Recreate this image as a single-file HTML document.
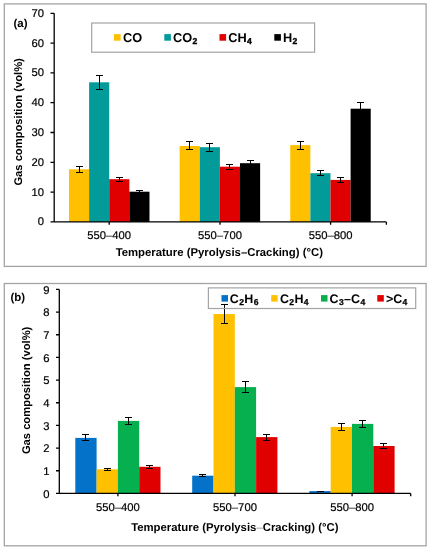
<!DOCTYPE html>
<html><head><meta charset="utf-8"><style>
html,body{margin:0;padding:0;background:#fff;overflow:hidden;}
svg{display:block;}
text{text-rendering:geometricPrecision;}
</style></head><body>
<svg width="431" height="550" viewBox="0 0 431 550">
<rect x="0" y="0" width="431" height="550" fill="#fff"/>
<rect x="4.3" y="3.9" width="421.8" height="262.5" fill="none" stroke="#a4a4a4" stroke-width="1.3"/>
<rect x="69.00" y="169.30" width="20.12" height="52.60" fill="#FFC000"/>
<rect x="89.12" y="82.30" width="20.12" height="139.60" fill="#039A9A"/>
<rect x="109.24" y="179.20" width="20.12" height="42.70" fill="#E00000"/>
<rect x="129.36" y="191.70" width="20.12" height="30.20" fill="#000000"/>
<rect x="179.65" y="146.00" width="20.12" height="75.90" fill="#FFC000"/>
<rect x="199.77" y="147.20" width="20.12" height="74.70" fill="#039A9A"/>
<rect x="219.89" y="166.70" width="20.12" height="55.20" fill="#E00000"/>
<rect x="240.01" y="163.20" width="20.12" height="58.70" fill="#000000"/>
<rect x="290.25" y="145.10" width="20.12" height="76.80" fill="#FFC000"/>
<rect x="310.37" y="173.20" width="20.12" height="48.70" fill="#039A9A"/>
<rect x="330.49" y="179.90" width="20.12" height="42.00" fill="#E00000"/>
<rect x="350.61" y="108.70" width="20.12" height="113.20" fill="#000000"/>
<path d="M79.50 166.50V172.50M76.00 166.50H83.00M76.00 172.50H83.00" stroke="#000" stroke-width="1" fill="none"/>
<path d="M99.50 75.50V89.50M96.00 75.50H103.00M96.00 89.50H103.00" stroke="#000" stroke-width="1" fill="none"/>
<path d="M119.50 177.50V181.50M116.00 177.50H123.00M116.00 181.50H123.00" stroke="#000" stroke-width="1" fill="none"/>
<path d="M139.50 190.50V192.50M136.00 190.50H143.00M136.00 192.50H143.00" stroke="#000" stroke-width="1" fill="none"/>
<path d="M189.50 141.50V149.50M186.00 141.50H193.00M186.00 149.50H193.00" stroke="#000" stroke-width="1" fill="none"/>
<path d="M209.50 143.50V151.50M206.00 143.50H213.00M206.00 151.50H213.00" stroke="#000" stroke-width="1" fill="none"/>
<path d="M229.50 164.50V169.50M226.00 164.50H233.00M226.00 169.50H233.00" stroke="#000" stroke-width="1" fill="none"/>
<path d="M250.50 160.50V166.50M247.00 160.50H254.00M247.00 166.50H254.00" stroke="#000" stroke-width="1" fill="none"/>
<path d="M300.50 141.50V149.50M297.00 141.50H304.00M297.00 149.50H304.00" stroke="#000" stroke-width="1" fill="none"/>
<path d="M320.50 170.50V175.50M317.00 170.50H324.00M317.00 175.50H324.00" stroke="#000" stroke-width="1" fill="none"/>
<path d="M340.50 177.50V182.50M337.00 177.50H344.00M337.00 182.50H344.00" stroke="#000" stroke-width="1" fill="none"/>
<path d="M360.50 102.50V114.50M357.00 102.50H364.00M357.00 114.50H364.00" stroke="#000" stroke-width="1" fill="none"/>
<path d="M54.2 13.3V221.9H386.4M50.5 221.90H54.2M50.5 192.10H54.2M50.5 162.30H54.2M50.5 132.50H54.2M50.5 102.70H54.2M50.5 72.90H54.2M50.5 43.10H54.2M50.5 13.30H54.2M109.20 221.9V224.70000000000002M220.00 221.9V224.70000000000002M330.60 221.9V224.70000000000002M386.40 221.9V224.70000000000002" stroke="#000" stroke-width="1.3" fill="none"/>
<text x="44" y="225.30" text-anchor="end" font-family='"Liberation Sans", Arial, sans-serif' font-size="11.25" fill="#000" stroke="#000" stroke-width="0.2">0</text>
<text x="44" y="195.50" text-anchor="end" font-family='"Liberation Sans", Arial, sans-serif' font-size="11.25" fill="#000" stroke="#000" stroke-width="0.2">10</text>
<text x="44" y="165.70" text-anchor="end" font-family='"Liberation Sans", Arial, sans-serif' font-size="11.25" fill="#000" stroke="#000" stroke-width="0.2">20</text>
<text x="44" y="135.90" text-anchor="end" font-family='"Liberation Sans", Arial, sans-serif' font-size="11.25" fill="#000" stroke="#000" stroke-width="0.2">30</text>
<text x="44" y="106.10" text-anchor="end" font-family='"Liberation Sans", Arial, sans-serif' font-size="11.25" fill="#000" stroke="#000" stroke-width="0.2">40</text>
<text x="44" y="76.30" text-anchor="end" font-family='"Liberation Sans", Arial, sans-serif' font-size="11.25" fill="#000" stroke="#000" stroke-width="0.2">50</text>
<text x="44" y="46.50" text-anchor="end" font-family='"Liberation Sans", Arial, sans-serif' font-size="11.25" fill="#000" stroke="#000" stroke-width="0.2">60</text>
<text x="44" y="16.70" text-anchor="end" font-family='"Liberation Sans", Arial, sans-serif' font-size="11.25" fill="#000" stroke="#000" stroke-width="0.2">70</text>
<text x="109.20" y="239.3" text-anchor="middle" font-family='"Liberation Sans", Arial, sans-serif' font-size="11.25" fill="#000" stroke="#000" stroke-width="0.2">550–400</text>
<text x="220.00" y="239.3" text-anchor="middle" font-family='"Liberation Sans", Arial, sans-serif' font-size="11.25" fill="#000" stroke="#000" stroke-width="0.2">550–700</text>
<text x="330.60" y="239.3" text-anchor="middle" font-family='"Liberation Sans", Arial, sans-serif' font-size="11.25" fill="#000" stroke="#000" stroke-width="0.2">550–800</text>
<text x="219.3" y="256.3" text-anchor="middle" font-family='"Liberation Sans", Arial, sans-serif' font-size="11.35" font-weight="bold" fill="#000">Temperature (Pyrolysis–Cracking) (°C)</text>
<text transform="translate(22.2 121.9) rotate(-90)" text-anchor="middle" font-family='"Liberation Sans", Arial, sans-serif' font-size="11.2" font-weight="bold" fill="#000">Gas composition (vol%)</text>
<text x="13.5" y="26.5" font-family='"Liberation Sans", Arial, sans-serif' font-size="11.5" font-weight="bold" fill="#000">(a)</text>
<rect x="91.7" y="23.0" width="222.90000000000003" height="29.200000000000003" fill="none" stroke="#a4a4a4" stroke-width="1.2"/>
<rect x="114" y="34.1" width="6.6" height="6.6" fill="#FFC000"/>
<text x="122.9" y="41.7" font-family='"Liberation Sans", Arial, sans-serif' font-size="12.8" font-weight="bold" fill="#000">CO</text>
<rect x="164.3" y="34.1" width="6.6" height="6.6" fill="#039A9A"/>
<text x="173.0" y="41.7" font-family='"Liberation Sans", Arial, sans-serif' font-size="12.8" font-weight="bold" fill="#000">CO<tspan font-size="8.6" dx="0.3" dy="2.6" stroke="#000" stroke-width="0.35">2</tspan></text>
<rect x="219.5" y="34.1" width="6.6" height="6.6" fill="#E00000"/>
<text x="228.2" y="41.7" font-family='"Liberation Sans", Arial, sans-serif' font-size="12.8" font-weight="bold" fill="#000">CH<tspan font-size="8.6" dx="0.3" dy="2.6" stroke="#000" stroke-width="0.35">4</tspan></text>
<rect x="274.3" y="34.1" width="6.6" height="6.6" fill="#000000"/>
<text x="282.9" y="41.7" font-family='"Liberation Sans", Arial, sans-serif' font-size="12.8" font-weight="bold" fill="#000">H<tspan font-size="8.6" dx="0.3" dy="2.6" stroke="#000" stroke-width="0.35">2</tspan></text>
<rect x="4.3" y="283.5" width="421.8" height="262.29999999999995" fill="none" stroke="#a4a4a4" stroke-width="1.3"/>
<rect x="75.30" y="437.90" width="21.30" height="55.50" fill="#0472C8"/>
<rect x="96.60" y="469.30" width="21.30" height="24.10" fill="#FFC000"/>
<rect x="117.90" y="420.90" width="21.30" height="72.50" fill="#06B04E"/>
<rect x="139.20" y="466.80" width="21.30" height="26.60" fill="#E00000"/>
<rect x="192.20" y="475.70" width="21.30" height="17.70" fill="#0472C8"/>
<rect x="213.50" y="314.00" width="21.30" height="179.40" fill="#FFC000"/>
<rect x="234.80" y="387.10" width="21.30" height="106.30" fill="#06B04E"/>
<rect x="256.10" y="437.10" width="21.30" height="56.30" fill="#E00000"/>
<rect x="309.40" y="491.10" width="21.30" height="2.30" fill="#0472C8"/>
<rect x="330.70" y="426.90" width="21.30" height="66.50" fill="#FFC000"/>
<rect x="352.00" y="423.90" width="21.30" height="69.50" fill="#06B04E"/>
<rect x="373.30" y="446.00" width="21.30" height="47.40" fill="#E00000"/>
<path d="M85.50 434.50V440.50M82.00 434.50H89.00M82.00 440.50H89.00" stroke="#000" stroke-width="1" fill="none"/>
<path d="M107.50 468.50V470.50M104.00 468.50H111.00M104.00 470.50H111.00" stroke="#000" stroke-width="1" fill="none"/>
<path d="M128.50 417.50V424.50M125.00 417.50H132.00M125.00 424.50H132.00" stroke="#000" stroke-width="1" fill="none"/>
<path d="M149.50 465.50V468.50M146.00 465.50H153.00M146.00 468.50H153.00" stroke="#000" stroke-width="1" fill="none"/>
<path d="M202.50 474.50V476.50M199.00 474.50H206.00M199.00 476.50H206.00" stroke="#000" stroke-width="1" fill="none"/>
<path d="M224.50 304.50V323.50M221.00 304.50H228.00M221.00 323.50H228.00" stroke="#000" stroke-width="1" fill="none"/>
<path d="M245.50 381.50V392.50M242.00 381.50H249.00M242.00 392.50H249.00" stroke="#000" stroke-width="1" fill="none"/>
<path d="M266.50 434.50V440.50M263.00 434.50H270.00M263.00 440.50H270.00" stroke="#000" stroke-width="1" fill="none"/>
<path d="M320.50 491.50V491.50M317.00 491.50H324.00M317.00 491.50H324.00" stroke="#000" stroke-width="1" fill="none"/>
<path d="M341.50 423.50V430.50M338.00 423.50H345.00M338.00 430.50H345.00" stroke="#000" stroke-width="1" fill="none"/>
<path d="M362.50 420.50V427.50M359.00 420.50H366.00M359.00 427.50H366.00" stroke="#000" stroke-width="1" fill="none"/>
<path d="M383.50 443.50V448.50M380.00 443.50H387.00M380.00 448.50H387.00" stroke="#000" stroke-width="1" fill="none"/>
<path d="M59.3 289.4V493.4H410.7M56 493.40H59.3M56 470.73H59.3M56 448.07H59.3M56 425.40H59.3M56 402.73H59.3M56 380.07H59.3M56 357.40H59.3M56 334.73H59.3M56 312.07H59.3M56 289.40H59.3M117.90 493.4V496.2M235.00 493.4V496.2M352.10 493.4V496.2M410.70 493.4V496.2" stroke="#000" stroke-width="1.3" fill="none"/>
<text x="49.4" y="497.50" text-anchor="end" font-family='"Liberation Sans", Arial, sans-serif' font-size="11.25" fill="#000" stroke="#000" stroke-width="0.2">0</text>
<text x="49.4" y="474.83" text-anchor="end" font-family='"Liberation Sans", Arial, sans-serif' font-size="11.25" fill="#000" stroke="#000" stroke-width="0.2">1</text>
<text x="49.4" y="452.17" text-anchor="end" font-family='"Liberation Sans", Arial, sans-serif' font-size="11.25" fill="#000" stroke="#000" stroke-width="0.2">2</text>
<text x="49.4" y="429.50" text-anchor="end" font-family='"Liberation Sans", Arial, sans-serif' font-size="11.25" fill="#000" stroke="#000" stroke-width="0.2">3</text>
<text x="49.4" y="406.83" text-anchor="end" font-family='"Liberation Sans", Arial, sans-serif' font-size="11.25" fill="#000" stroke="#000" stroke-width="0.2">4</text>
<text x="49.4" y="384.17" text-anchor="end" font-family='"Liberation Sans", Arial, sans-serif' font-size="11.25" fill="#000" stroke="#000" stroke-width="0.2">5</text>
<text x="49.4" y="361.50" text-anchor="end" font-family='"Liberation Sans", Arial, sans-serif' font-size="11.25" fill="#000" stroke="#000" stroke-width="0.2">6</text>
<text x="49.4" y="338.83" text-anchor="end" font-family='"Liberation Sans", Arial, sans-serif' font-size="11.25" fill="#000" stroke="#000" stroke-width="0.2">7</text>
<text x="49.4" y="316.17" text-anchor="end" font-family='"Liberation Sans", Arial, sans-serif' font-size="11.25" fill="#000" stroke="#000" stroke-width="0.2">8</text>
<text x="49.4" y="293.50" text-anchor="end" font-family='"Liberation Sans", Arial, sans-serif' font-size="11.25" fill="#000" stroke="#000" stroke-width="0.2">9</text>
<text x="117.80" y="511.2" text-anchor="middle" font-family='"Liberation Sans", Arial, sans-serif' font-size="11.25" fill="#000" stroke="#000" stroke-width="0.2">550–400</text>
<text x="235.00" y="511.2" text-anchor="middle" font-family='"Liberation Sans", Arial, sans-serif' font-size="11.25" fill="#000" stroke="#000" stroke-width="0.2">550–700</text>
<text x="352.10" y="511.2" text-anchor="middle" font-family='"Liberation Sans", Arial, sans-serif' font-size="11.25" fill="#000" stroke="#000" stroke-width="0.2">550–800</text>
<text x="234.8" y="530.7" text-anchor="middle" font-family='"Liberation Sans", Arial, sans-serif' font-size="11.35" font-weight="bold" fill="#000">Temperature (Pyrolysis<tspan font-weight="normal" fill="#8a8a8a">–</tspan>Cracking) (°C)</text>
<text transform="translate(29.5 390.4) rotate(-90)" text-anchor="middle" font-family='"Liberation Sans", Arial, sans-serif' font-size="11.2" font-weight="bold" fill="#000">Gas composition (vol%)</text>
<text x="10.5" y="301" font-family='"Liberation Sans", Arial, sans-serif' font-size="11.5" font-weight="bold" fill="#000">(b)</text>
<rect x="208.4" y="287.9" width="207.29999999999998" height="20.600000000000023" fill="none" stroke="#a4a4a4" stroke-width="1.2"/>
<rect x="221.5" y="295.1" width="6.5" height="6.5" fill="#0472C8"/>
<text x="229.8" y="303" font-family='"Liberation Sans", Arial, sans-serif' font-size="12.5" font-weight="bold" fill="#000">C<tspan font-size="8.6" dx="0.3" dy="1.9" stroke="#000" stroke-width="0.25">2</tspan><tspan dx="0.4" dy="-1.9">H</tspan><tspan font-size="8.6" dx="0.3" dy="1.9" stroke="#000" stroke-width="0.25">6</tspan></text>
<rect x="271.2" y="295.1" width="6.5" height="6.5" fill="#FFC000"/>
<text x="280.0" y="303" font-family='"Liberation Sans", Arial, sans-serif' font-size="12.5" font-weight="bold" fill="#000">C<tspan font-size="8.6" dx="0.3" dy="1.9" stroke="#000" stroke-width="0.25">2</tspan><tspan dx="0.4" dy="-1.9">H</tspan><tspan font-size="8.6" dx="0.3" dy="1.9" stroke="#000" stroke-width="0.25">4</tspan></text>
<rect x="321" y="295.1" width="6.5" height="6.5" fill="#06B04E"/>
<text x="329.6" y="303" font-family='"Liberation Sans", Arial, sans-serif' font-size="12.5" font-weight="bold" fill="#000">C<tspan font-size="8.6" dx="0.3" dy="1.9" stroke="#000" stroke-width="0.25">3</tspan><tspan dx="0.4" dy="-1.9">–C</tspan><tspan font-size="8.6" dx="0.3" dy="1.9" stroke="#000" stroke-width="0.25">4</tspan></text>
<rect x="377.3" y="295.1" width="6.5" height="6.5" fill="#E00000"/>
<text x="385.9" y="303" font-family='"Liberation Sans", Arial, sans-serif' font-size="12.5" font-weight="bold" fill="#000">&gt;C<tspan font-size="8.6" dx="0.3" dy="1.9" stroke="#000" stroke-width="0.25">4</tspan></text>
</svg>
</body></html>
